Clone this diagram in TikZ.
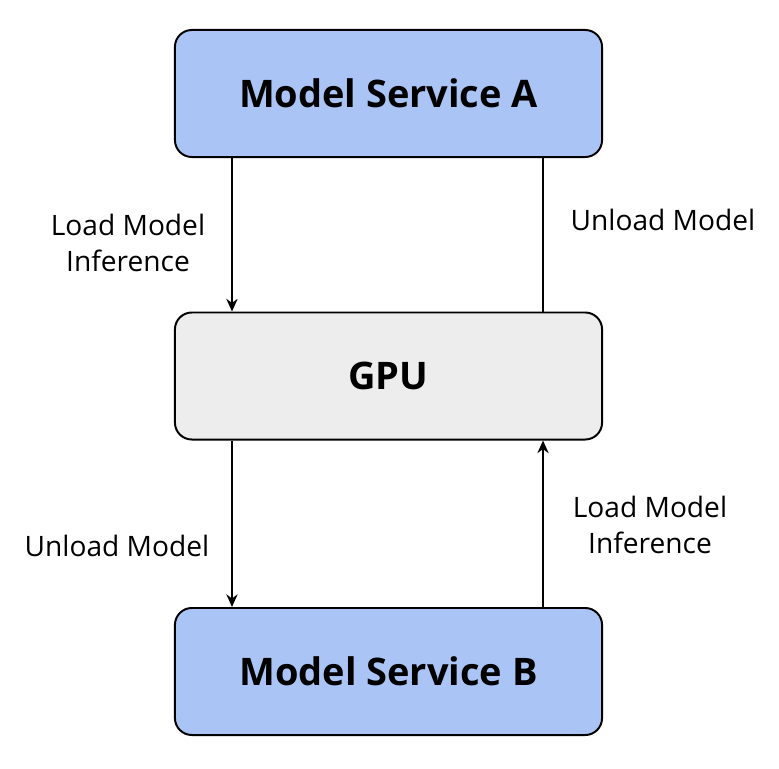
\documentclass[tikz,border=0pt]{standalone}
\usepackage{fontspec}
\setmainfont{Open Sans}
\usetikzlibrary{positioning}
\tikzset{
  box/.style={draw, line width=1.4pt, rounded corners=12pt, minimum width=10.675cm, minimum height=3.175cm, font=\bfseries\fontsize{27}{30}\selectfont},
  svc/.style={box, fill=blue!30!cyan!20!white, fill=[HTML]{A9C4F5}},
  lbl/.style={font=\fontsize{20}{26}\selectfont, align=center},
  flow/.style={line width=1.4pt, -{Stealth[length=9pt,width=8pt]}}
}
\usetikzlibrary{arrows.meta}
\definecolor{svcblue}{HTML}{A9C4F5}
\definecolor{gpugray}{HTML}{EDEDED}
\begin{document}
\begin{tikzpicture}[x=0.025cm,y=-0.025cm]
  \useasboundingbox (0,0) rectangle (779,769);
  \node[box, fill=svcblue] (a) at (388.5,93.5) {Model Service A};
  \node[box, fill=gpugray] (gpu) at (388.5,376) {GPU};
  \node[box, fill=svcblue] (b) at (388.5,671.5) {Model Service B};

  \coordinate (al) at ([xshift=1.45cm]a.south west);
  \coordinate (ar) at ([xshift=-1.5cm]a.south east);
  \coordinate (gl) at ([xshift=1.45cm]gpu.south west);
  \coordinate (gr) at ([xshift=-1.5cm]gpu.south east);

  \draw[flow] (al) -- (al |- gpu.north);
  \draw[line width=1.4pt] (gpu.north -| ar) -- (ar);
  \draw[flow] (gl) -- (gl |- b.north);
  \draw[flow] (b.north -| gr) -- (gr);

  \node[lbl] (l1) at (128,243) {Load Model\\Inference};
  \node[lbl] (l2) at (663,220) {Unload Model};
  \node[lbl] (l3) at (117,546) {Unload Model};
  \node[lbl] (l4) at (650,525) {Load Model\\Inference};
\end{tikzpicture}
\end{document}
